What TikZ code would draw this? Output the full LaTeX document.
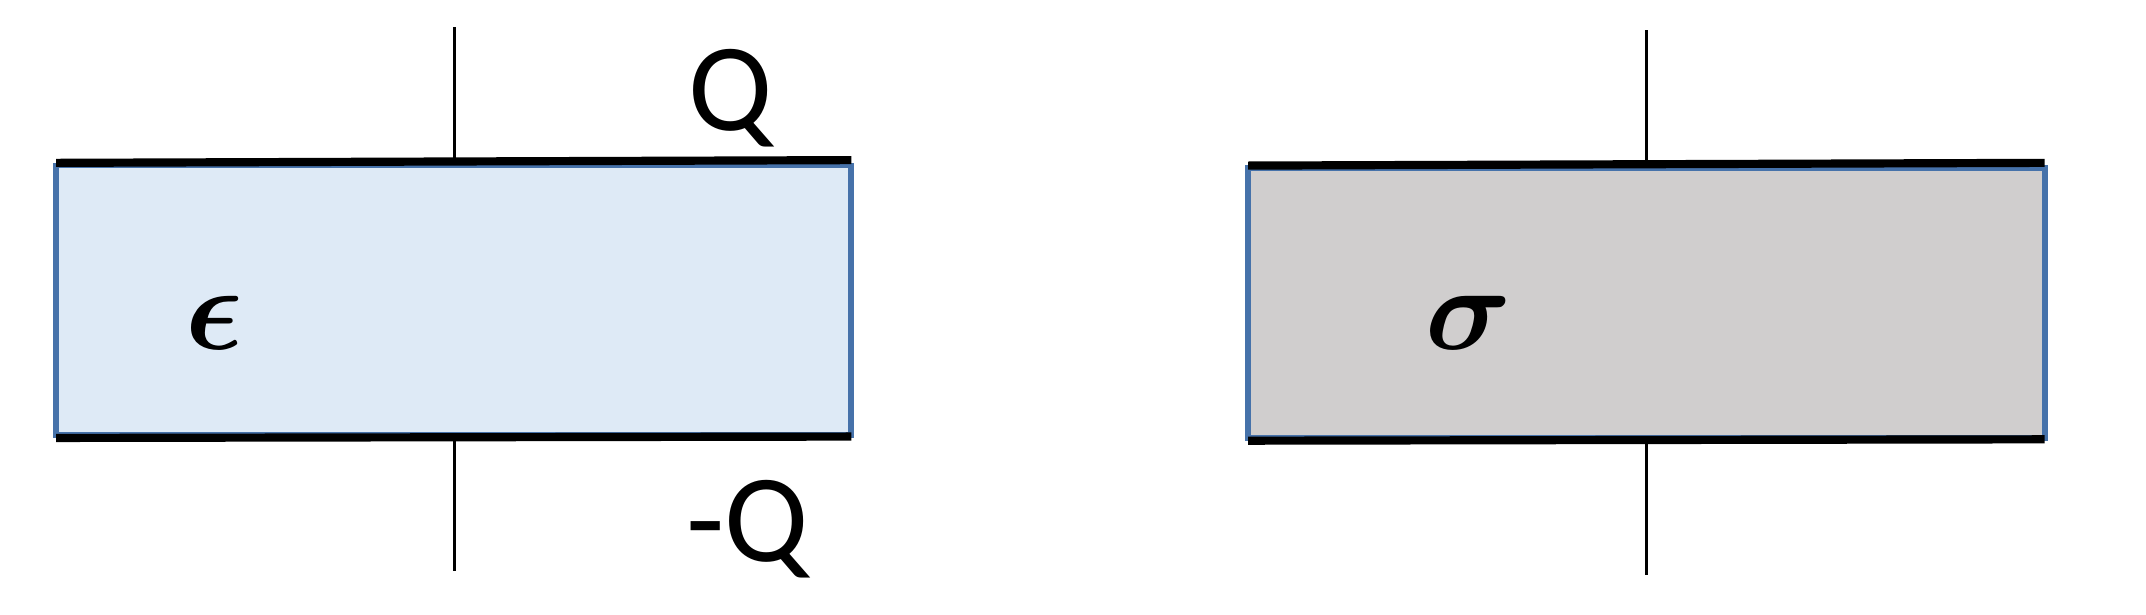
\documentclass[tikz,border=0pt]{standalone}
\usepackage{amsmath}
\usepackage{bm}
\usepackage{fontspec}
\setmainfont{Carlito}
\definecolor{lblue}{RGB}{222,234,246}
\definecolor{lgray}{RGB}{208,206,206}
\definecolor{edge}{RGB}{70,114,170}
\begin{document}
\begin{tikzpicture}[x=0.01cm,y=-0.01cm,
  plate/.style={line width=1.7pt,black},
  wire/.style={line width=0.7pt,black},
  slab/.style={draw=edge,line width=1.2pt},
  lab/.style={font=\fontsize{26}{26}\selectfont},
  glab/.style={font=\fontsize{46}{46}\selectfont}]
\useasboundingbox (0,0) rectangle (1568,449);
% left
\fill[lblue] (41,121) rectangle (622,318);
\draw[slab] (41,121) rectangle (622,318);
\draw[plate] (41,119) coordinate (lt1) -- (622,117) coordinate (lt2);
\draw[plate] (41,320) coordinate (lb1) -- (622,319) coordinate (lb2);
\coordinate (la) at (332,20); \coordinate (lb) at (332,117);
\coordinate (lc) at (332,322); \coordinate (ld) at (332,417);
\draw[wire] (la) -- (lb);
\draw[wire] (lc) -- (ld);
\node[lab] (q) at (534,72) {Q};
\node[lab] (mq) at (546,387) {-Q};
\node[glab] (eps) at (157,236) {$\bm{\epsilon}$};
% right
\fill[lgray] (912,123) rectangle (1494,320);
\draw[slab] (912,123) rectangle (1494,320);
\draw[plate] (912,121) -- (1494,119);
\draw[plate] (912,322) -- (1494,321);
\coordinate (ra) at (1203,22); \coordinate (rb) at (1203,119);
\coordinate (rc) at (1203,324); \coordinate (rd) at (1203,420);
\draw[wire] (ra) -- (rb);
\draw[wire] (rc) -- (rd);
\node[glab] (sig) at (1073,236) {$\bm{\sigma}$};
\end{tikzpicture}
\end{document}
